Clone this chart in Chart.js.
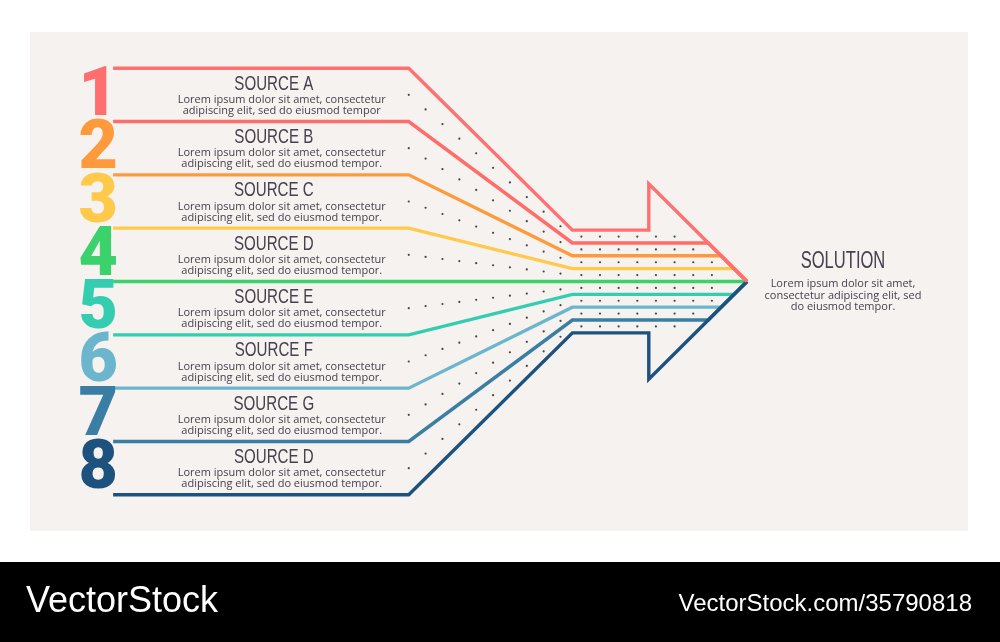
<!DOCTYPE html>
<html><head><meta charset="utf-8">
<script src="https://cdn.jsdelivr.net/npm/chart.js@4"></script>
<style>html,body{margin:0;padding:0;background:#fff}#c{display:block}</style>
</head><body>
<div style="width:1000px;height:642px"><canvas id="c"></canvas></div>
<script>
// levels of the eight source bands (left edge y) and where they land at the arrow
var leftY  = [65, 119, 173, 227, 281, 335, 389, 443, 497];
var innerY = [229, 242, 255, 268, 281, 294, 307, 320, 333];
var colors = ['#ff7171', '#ff6d6a', '#ff9a3c', '#ffc94b', '#3bd16b', '#34cdb0', '#6cb6cd', '#3b7ea3', '#1c527d'];
var numColors = ['#ff6f6f', '#ff9a3c', '#ffc94b', '#3bd16b', '#34cdb0', '#6cb6cd', '#3b7ea3', '#1c527d'];
var titles = ['SOURCE A', 'SOURCE B', 'SOURCE C', 'SOURCE D', 'SOURCE E', 'SOURCE F', 'SOURCE G', 'SOURCE D'];
var line1 = 'Lorem ipsum dolor sit amet, consectetur';
var line2 = ['adipiscing elit, sed do eiusmod tempor', 'adipiscing elit, sed do eiusmod tempor.', 'adipiscing elit, sed do eiusmod tempor.',
  'adipiscing elit, sed do eiusmod tempor.', 'adipiscing elit, sed do eiusmod tempor.', 'adipiscing elit, sed do eiusmod tempor.',
  'adipiscing elit, sed do eiusmod tempor.', 'adipiscing elit, sed do eiusmod tempor.'];
var xStart = 110, xBend = 408, xJoin = 573, xHead = 650, apex = [749, 281];

function pathFor(i) {
  var p = [{x: xStart, y: leftY[i]}, {x: xBend, y: leftY[i]}, {x: xJoin, y: innerY[i]}];
  if (i === 0) { p.push({x: xHead, y: innerY[0]}, {x: xHead, y: 182}); }
  else if (i === 8) { p.push({x: xHead, y: innerY[8]}, {x: xHead, y: 380}); }
  else if (i !== 4) { p.push({x: apex[0] - Math.abs(innerY[i] - apex[1]), y: innerY[i]}); }
  p.push({x: apex[0], y: apex[1]});
  return p;
}
// outer lines first so inner ones paint the arrowhead edge on top
var order = [0, 8, 1, 7, 2, 6, 3, 5, 4];
var datasets = order.map(function (i) {
  return {type: 'line', data: pathFor(i), borderColor: colors[i], borderWidth: 3.4, pointRadius: 0,
    fill: false, tension: 0, borderJoinStyle: 'miter', borderCapStyle: 'butt'};
});

// dotted texture between neighbouring bands
var dots = [];
for (var k = 0; k < 8; k++) {
  var ya = (leftY[k] + leftY[k + 1]) / 2, yb = (innerY[k] + innerY[k + 1]) / 2;
  var xe = apex[0] - Math.abs(yb - apex[1]) - 14;
  for (var x = 408; x < xJoin; x += 17) dots.push({x: x, y: ya + (yb - ya) * (x - xBend) / (xJoin - xBend)});
  for (var x2 = 582; x2 <= xe; x2 += 18.8) dots.push({x: x2, y: yb});
}
datasets.push({type: 'scatter', data: dots, pointRadius: 1.1, pointBackgroundColor: '#444', pointBorderWidth: 0});

function narrow(c, text, x, y, size, squeeze) {
  c.save();
  c.translate(x, y);
  c.scale(squeeze, 1);
  c.font = size + 'px "Liberation Sans", sans-serif';
  c.fillText(text, 0, 0);
  c.restore();
}

var deco = {
  id: 'deco',
  beforeDraw: function (ch) {
    var c = ch.ctx;
    c.save();
    c.fillStyle = '#fff'; c.fillRect(0, 0, 1000, 642);
    c.fillStyle = '#f5f2ef'; c.fillRect(30, 32, 938, 499);
    c.fillStyle = '#000'; c.fillRect(0, 562, 1000, 80);
    c.restore();
  },
  afterDraw: function (ch) {
    var c = ch.ctx, sx = ch.scales.x, sy = ch.scales.y;
    c.save();
    c.textAlign = 'center'; c.textBaseline = 'middle';
    for (var i = 0; i < 8; i++) {
      var yc = sy.getPixelForValue((leftY[i] + leftY[i + 1]) / 2);
      c.fillStyle = numColors[i];
      c.font = '900 68px "Roboto", sans-serif';
      c.fillText(String(i + 1), sx.getPixelForValue(95), yc + 3);
      c.fillStyle = '#48404f';
      narrow(c, titles[i], sx.getPixelForValue(272), yc - 11, 21, 0.72);
      c.font = '11px "Open Sans", sans-serif';
      c.fillText(line1, sx.getPixelForValue(280), yc + 5);
      c.fillText(line2[i], sx.getPixelForValue(280), yc + 16);
    }
    narrow(c, 'SOLUTION', 843, 262, 23, 0.72);
    c.font = '11px "Open Sans", sans-serif';
    c.fillText('Lorem ipsum dolor sit amet,', 843, 284);
    c.fillText('consectetur adipiscing elit, sed', 843, 296);
    c.fillText('do eiusmod tempor.', 843, 307);
    c.fillStyle = '#fff';
    c.textAlign = 'left';
    c.font = '36px "Liberation Sans", sans-serif';
    c.fillText('VectorStock', 26, 602);
    c.textAlign = 'right';
    c.font = '24px "Liberation Sans", sans-serif';
    c.fillText('VectorStock.com/35790818', 972, 604);
    c.restore();
  }
};

new Chart(document.getElementById('c'), {
  data: {datasets: datasets},
  options: {
    responsive: true, maintainAspectRatio: false, animation: false,
    layout: {padding: 0},
    plugins: {legend: {display: false}, tooltip: {enabled: false}},
    scales: {
      x: {type: 'linear', min: 0, max: 1000, display: false},
      y: {type: 'linear', min: 0, max: 642, reverse: true, display: false}
    }
  },
  plugins: [deco]
});
</script>
</body></html>
